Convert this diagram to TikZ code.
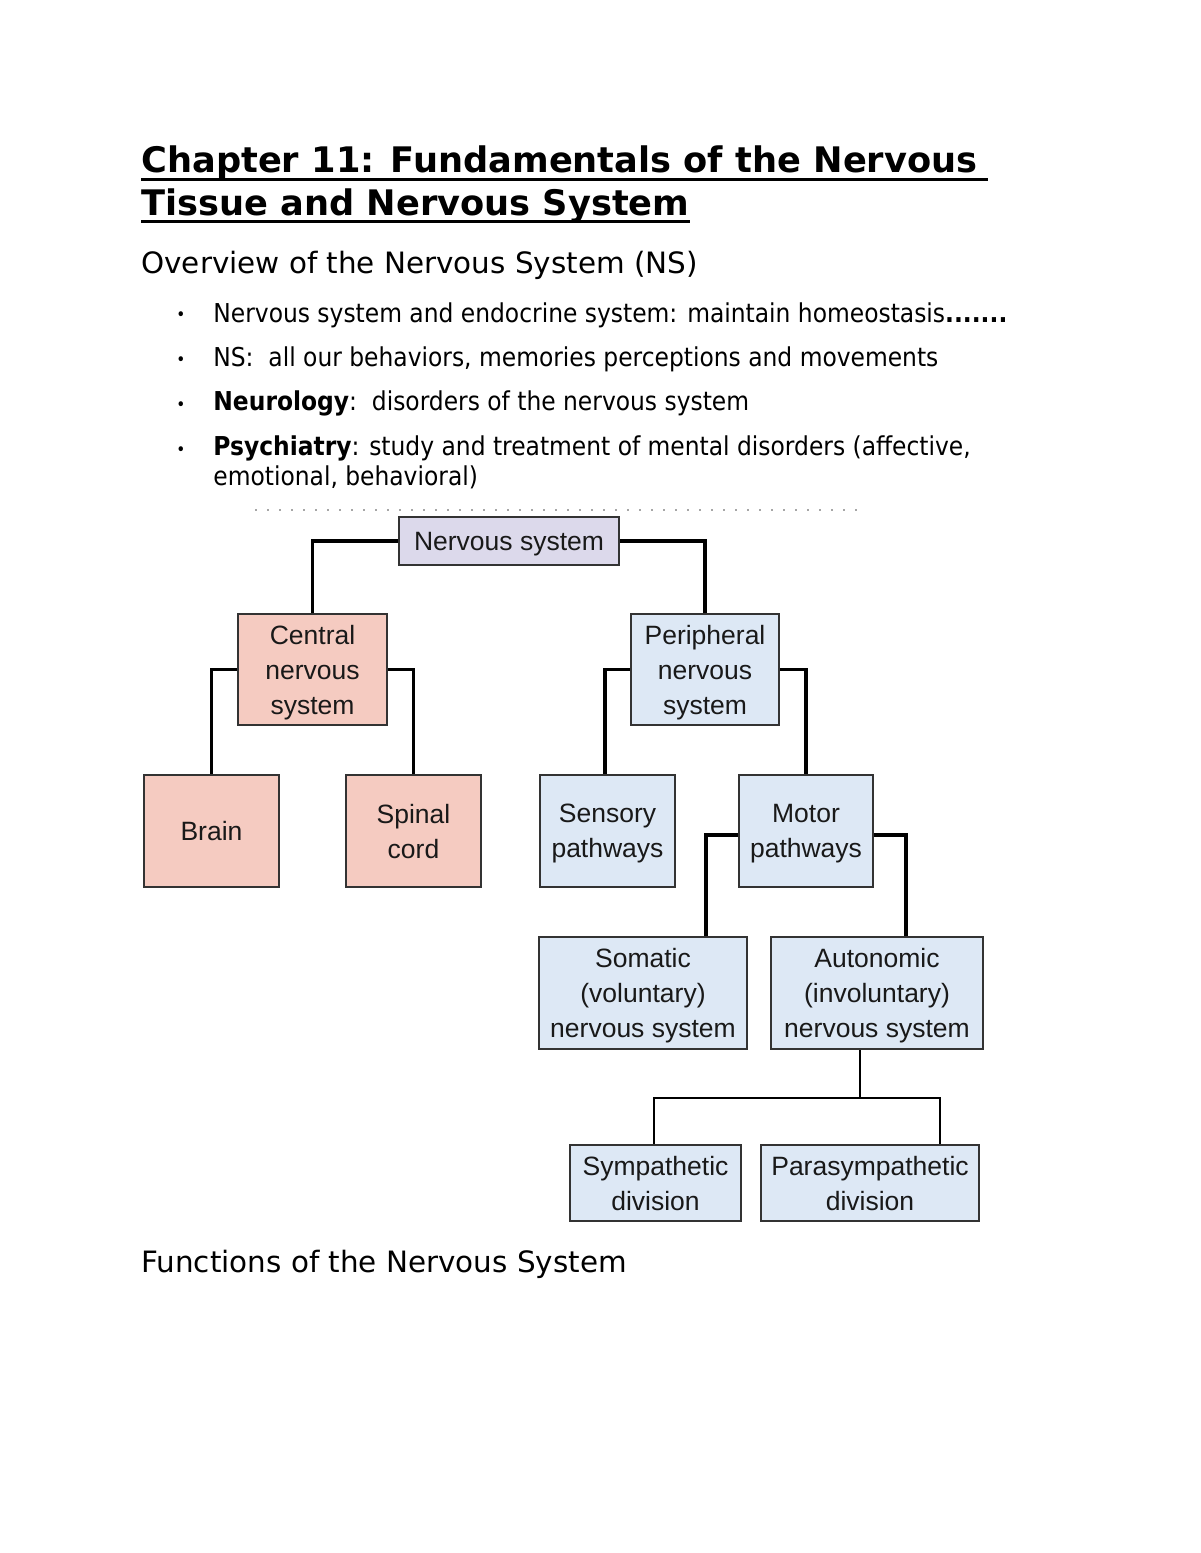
\documentclass[tikz,border=0pt]{standalone}
\usepackage{fontspec}
\setmainfont{DejaVu Sans}
\newfontfamily\condfont{DejaVu Sans Condensed}
\newfontfamily\arialfont{Liberation Sans}
\definecolor{lav}{HTML}{DCD9EB}
\definecolor{pinkc}{HTML}{F5CBC1}
\definecolor{bluec}{HTML}{DDE8F5}
\begin{document}
\begin{tikzpicture}[x=0.5pt,y=-0.5pt,
  box/.style={draw=black!80, line width=1pt, inner sep=0pt, align=center, text depth=0pt,
    font=\arialfont\fontsize{13.25}{17.5}\selectfont, text=black!90},
  wire/.style={line width=1.6pt, black},
  thinwire/.style={line width=1.2pt, black},
  bul/.style={anchor=base west, inner sep=0pt, font=\condfont\fontsize{13}{15}\selectfont},
  dot/.style={anchor=base, inner sep=0pt, font=\condfont\fontsize{8.5}{10}\selectfont},
  head/.style={anchor=base west, inner sep=0pt, font=\fontsize{14.7}{17}\selectfont},
  ttl/.style={anchor=base west, inner sep=0pt, font=\bfseries\fontsize{17.6}{20}\selectfont}]
\useasboundingbox (0,0) rectangle (1200,1553);
\fill[white] (0,0) rectangle (1200,1553);
% title
\node[ttl] (t1) at (141,172) {Chapter 11: Fundamentals of the Nervous};
\node[ttl] (t2) at (141,215) {Tissue and Nervous System};
\draw[line width=1.5pt] (141,179) -- (988,179);
\draw[line width=1.5pt] (141,221) -- (690,221);
\node[head] (h1) at (141,273) {Overview of the Nervous System (NS)};
% bullets
\node[dot] (d1) at (181,320) {•};
\node[bul] (b1) at (213,322) {Nervous system and endocrine system: maintain homeostasis\textbf{.......}};
\node[dot] (d2) at (181,365) {•};
\node[bul] (b2) at (213,366) {NS:\ \ all our behaviors, memories perceptions and movements};
\node[dot] (d3) at (181,410) {•};
\node[bul] (b3) at (213,410) {\textbf{Neurology}:\ \ disorders of the nervous system};
\node[dot] (d4) at (181,455) {•};
\node[bul] (b4) at (213,455) {\textbf{Psychiatry}: study and treatment of mental disorders (affective,};
\node[bul] (b5) at (213,485) {emotional, behavioral)};
% faint artefact line
\draw[black!35, line width=0.8pt, dash pattern=on 1pt off 5pt] (255,510) -- (865,510);
% boxes
\node[box, fill=lav, minimum width=110pt, minimum height=24pt] (ns) at (509,541) {Nervous system};
\node[box, fill=pinkc, minimum width=74.5pt, minimum height=55.5pt] (cns) at (312.5,669.5) {Central\\nervous\\system};
\node[box, fill=bluec, minimum width=74pt, minimum height=55.5pt] (pns) at (705,669.5) {Peripheral\\nervous\\system};
\node[box, fill=pinkc, minimum width=67.5pt, minimum height=56pt] (brain) at (211.5,831) {Brain};
\node[box, fill=pinkc, minimum width=67.5pt, minimum height=56pt] (spinal) at (413.5,831) {Spinal\\cord};
\node[box, fill=bluec, minimum width=67.5pt, minimum height=56pt] (sens) at (607.5,831) {Sensory\\pathways};
\node[box, fill=bluec, minimum width=67pt, minimum height=56pt] (motor) at (806,831) {Motor\\pathways};
\node[box, fill=bluec, minimum width=104pt, minimum height=56pt] (som) at (643,993) {Somatic\\(voluntary)\\nervous system};
\node[box, fill=bluec, minimum width=106pt, minimum height=56pt] (aut) at (877,993) {Autonomic\\(involuntary)\\nervous system};
\node[box, fill=bluec, minimum width=85.5pt, minimum height=38pt] (symp) at (655.5,1183) {Sympathetic\\division};
\node[box, fill=bluec, minimum width=109pt, minimum height=38pt] (para) at (870,1183) {Parasympathetic\\division};
% connectors
\draw[wire] (ns.west) -| (cns.north);
\draw[wire] (ns.east) -| (pns.north);
\draw[wire] (cns.west) -| (brain.north);
\draw[wire] (cns.east) -| (spinal.north);
\draw[wire] (pns.west) -| ([xshift=-1.25pt]sens.north);
\draw[wire] (pns.east) -| (motor.north);
\draw[wire] ([yshift=-2pt]motor.west) -| ([xshift=31.5pt]som.north);
\draw[wire] ([yshift=-2pt]motor.east) -| ([xshift=14.5pt]aut.north);
\coordinate (bus) at (860,1098);
\draw[thinwire] ([xshift=-8.5pt]aut.south) -- (bus);
\draw[thinwire] ([xshift=-0.75pt]symp.north) |- (bus) -| ([xshift=35pt]para.north);
\node[head] (h2) at (141,1272) {Functions of the Nervous System};
\end{tikzpicture}
\end{document}
